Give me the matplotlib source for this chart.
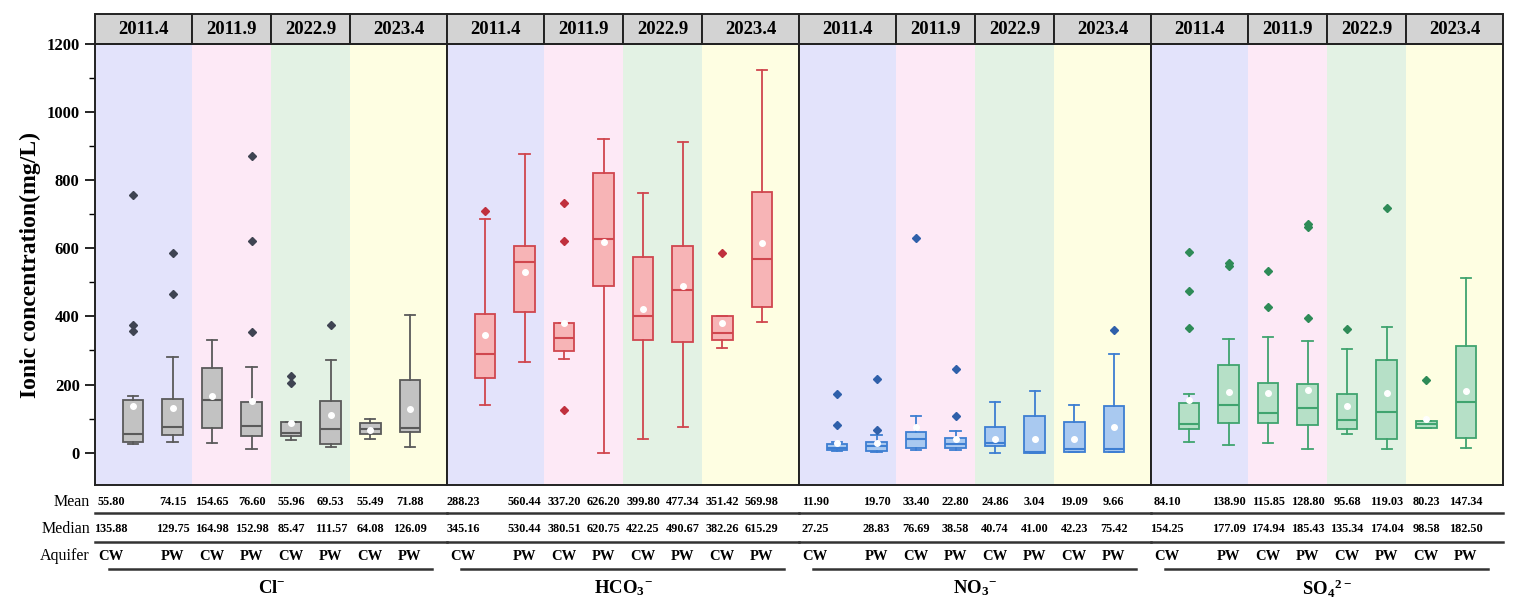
import matplotlib
matplotlib.use("Agg")
import matplotlib.pyplot as plt
from matplotlib.patches import Rectangle

plt.rcParams['font.family'] = ['Liberation Serif', 'DejaVu Serif']
plt.rcParams['mathtext.default'] = 'regular'

periods = ['2011.4', '2011.9', '2022.9', '2023.4']
aquifers = ['CW', 'PW'] * 4
ions = ['Cl$^{-}$', 'HCO$_{3}$$^{-}$', 'NO$_{3}$$^{-}$', 'SO$_{4}$$^{2-}$']

# box statistics (mg/L)
cl_wlo = [24, 31, 27, 12, 36, 18, 39, 16]
cl_q1 = [31, 52, 73, 49, 49, 26, 54, 61]
cl_med = [56, 75, 156, 78, 58, 70, 68, 73]
cl_q3 = [156, 158, 249, 149, 90, 153, 86, 212]
cl_whi = [166, 282, 332, 252, 90, 273, 99, 405]
cl_mean = [136, 130, 166, 151, 86, 112, 66, 127]
cl_out = [[758, 375, 357], [585, 466], [], [871, 621, 354], [224, 205], [376], [], []]

hco3_wlo = [141, 266, 275, 0, 39, 75, 307, 383]
hco3_q1 = [219, 412, 299, 490, 330, 325, 332, 429]
hco3_med = [290, 560, 337, 626, 400, 478, 351, 569]
hco3_q3 = [407, 607, 380, 821, 574, 608, 400, 764]
hco3_whi = [685, 878, 380, 920, 761, 912, 400, 1124]
hco3_mean = [346, 531, 380, 619, 421, 490, 382, 615]
hco3_out = [[709], [], [732, 621, 125], [], [], [], [587], []]

no3_wlo = [4, 2, 8, 8, 0, 0, 3, 3]
no3_q1 = [8, 5, 15, 15, 19, 0, 3, 3]
no3_med = [15, 19, 39, 26, 29, 3, 10, 10]
no3_q3 = [24, 31, 61, 42, 76, 107, 91, 138]
no3_whi = [32, 52, 109, 63, 149, 180, 141, 290]
no3_mean = [28, 28, 76, 39, 41, 41, 41, 76]
no3_out = [[173, 80], [215, 66], [631], [247, 107], [], [], [], [361]]

so4_wlo = [32, 22, 29, 10, 54, 12, 71, 15]
so4_q1 = [68, 88, 88, 81, 68, 39, 71, 44]
so4_med = [83, 139, 117, 130, 97, 119, 85, 148]
so4_q3 = [146, 256, 205, 202, 173, 271, 92, 312]
so4_whi = [173, 334, 341, 329, 305, 368, 92, 512]
so4_mean = [156, 177, 176, 185, 136, 176, 99, 182]
so4_out = [[590, 476, 366], [556, 549], [533, 427], [670, 663, 395], [364], [717], [212], []]

# table rows printed under the chart
cl_tab_mean = ['55.80', '74.15', '154.65', '76.60', '55.96', '69.53', '55.49', '71.88']
cl_tab_median = ['135.88', '129.75', '164.98', '152.98', '85.47', '111.57', '64.08', '126.09']
hco3_tab_mean = ['288.23', '560.44', '337.20', '626.20', '399.80', '477.34', '351.42', '569.98']
hco3_tab_median = ['345.16', '530.44', '380.51', '620.75', '422.25', '490.67', '382.26', '615.29']
no3_tab_mean = ['11.90', '19.70', '33.40', '22.80', '24.86', '3.04', '19.09', '9.66']
no3_tab_median = ['27.25', '28.83', '76.69', '38.58', '40.74', '41.00', '42.23', '75.42']
so4_tab_mean = ['84.10', '138.90', '115.85', '128.80', '95.68', '119.03', '80.23', '147.34']
so4_tab_median = ['154.25', '177.09', '174.94', '185.43', '135.34', '174.04', '98.58', '182.50']

panels = [
    (cl_wlo, cl_q1, cl_med, cl_q3, cl_whi, cl_mean, cl_out, cl_tab_mean, cl_tab_median),
    (hco3_wlo, hco3_q1, hco3_med, hco3_q3, hco3_whi, hco3_mean, hco3_out, hco3_tab_mean, hco3_tab_median),
    (no3_wlo, no3_q1, no3_med, no3_q3, no3_whi, no3_mean, no3_out, no3_tab_mean, no3_tab_median),
    (so4_wlo, so4_q1, so4_med, so4_q3, so4_whi, so4_mean, so4_out, so4_tab_mean, so4_tab_median),
]

face_colors = ['#C2C2C2', '#F7B4B6', '#A9C9F0', '#B6E0C7']
edge_colors = ['#5A5A5A', '#D0464E', '#3D7ED2', '#40A46F']
flier_colors = ['#3F4452', '#C0303E', '#2F60AA', '#2E8B57']
band_colors = ['#E3E3FB', '#FDE9F6', '#E3F2E4', '#FEFEE2']
band_edges = [0.04, 2.5, 4.5, 6.5, 8.94]

fig = plt.figure(figsize=(15.16, 6.12), dpi=100)

W, H = 1516, 612
ax_bottom_px, ax_top_px = 485, 44
panel_w = 352
positions = list(range(1, 9))
table_x = [0.45] + positions[1:]

for i, (wlo, q1, med, q3, whi, mean, out, tmean, tmed) in enumerate(panels):
    left = (95 + panel_w * i) / W
    ax = fig.add_axes([left, 1 - ax_bottom_px / H, panel_w / W, (ax_bottom_px - ax_top_px) / H])
    ax.set_xlim(band_edges[0], band_edges[-1])
    ax.set_ylim(-95, 1200)

    for j in range(4):
        ax.axvspan(band_edges[j], band_edges[j + 1], color=band_colors[j], lw=0, zorder=0)

    stats = []
    for k in range(8):
        stats.append(dict(whislo=wlo[k], q1=q1[k], med=med[k], q3=q3[k], whishi=whi[k],
                          mean=mean[k], fliers=out[k]))
    ax.bxp(stats, positions=positions, widths=0.52, capwidths=0.26, patch_artist=True,
           showmeans=True,
           boxprops=dict(facecolor=face_colors[i], edgecolor=edge_colors[i], lw=1.3),
           medianprops=dict(color=edge_colors[i], lw=1.5),
           whiskerprops=dict(color=edge_colors[i], lw=1.3),
           capprops=dict(color=edge_colors[i], lw=1.3),
           meanprops=dict(marker='o', markerfacecolor='white', markeredgecolor='white', markersize=4),
           flierprops=dict(marker='D', markerfacecolor=flier_colors[i], markeredgecolor=flier_colors[i],
                           markersize=4))

    for s in ax.spines.values():
        s.set_linewidth(1.4)
        s.set_color('#222222')
    ax.set_xticks([])
    if i == 0:
        ax.set_yticks(range(0, 1201, 200))
        ax.set_yticks(range(100, 1200, 200), minor=True)
        ax.tick_params(axis='y', which='major', length=7, width=1.2, direction='out', pad=4)
        ax.tick_params(axis='y', which='minor', length=4, width=1.0, direction='out')
        for lab in ax.get_yticklabels():
            lab.set_fontweight('bold')
            lab.set_fontsize(12)
        ax.set_ylabel('Ionic concentration(mg/L)', fontsize=17, fontweight='bold', labelpad=4)
    else:
        ax.set_yticks([])

    tr = ax.get_xaxis_transform()
    # header cells
    for j in range(4):
        ax.add_patch(Rectangle((band_edges[j], 1.0), band_edges[j + 1] - band_edges[j], 0.068,
                               transform=tr, facecolor='#D3D3D3', edgecolor='#222222', lw=1.4,
                               clip_on=False))
        ax.text((band_edges[j] + band_edges[j + 1]) / 2, 1.034, periods[j], transform=tr,
                ha='center', va='center', fontsize=13.5, fontweight='bold')

    # table under the plot
    for k in range(8):
        ax.text(table_x[k], -0.0385, tmean[k], transform=tr, ha='center', va='center',
                fontsize=8.8, fontweight='bold')
        ax.text(table_x[k], -0.0998, tmed[k], transform=tr, ha='center', va='center',
                fontsize=8.8, fontweight='bold')
        ax.text(table_x[k], -0.161, aquifers[k], transform=tr, ha='center', va='center',
                fontsize=10.5, fontweight='bold')
    for yy in (-0.0635, -0.129):
        ax.plot([0, 1], [yy, yy], transform=ax.transAxes, color='#333333', lw=1.8, clip_on=False)
    ax.plot([0.4, 8.55], [-0.19, -0.19], transform=tr, color='#333333', lw=1.8, clip_on=False)
    ax.text(4.5, -0.235, ions[i], transform=tr, ha='center', va='center', fontsize=13.5,
            fontweight='bold')

    if i == 0:
        for yy, lab in zip((-0.0385, -0.0998, -0.161), ('Mean', 'Median', 'Aquifer')):
            ax.text(-0.014, yy, lab, transform=ax.transAxes, ha='right', va='center', fontsize=11.5)

fig.savefig('out.png', dpi=100)
